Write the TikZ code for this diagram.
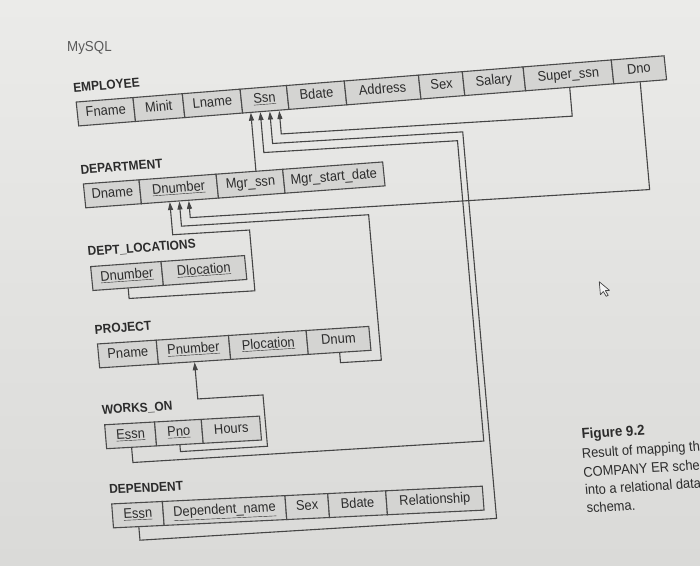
\documentclass[tikz,border=0pt]{standalone}
\usepackage{fontspec}
\setmainfont{Liberation Sans}[FakeStretch=0.92]
\usetikzlibrary{arrows.meta}
\definecolor{bgtop}{HTML}{EBEBE9}
\definecolor{bgbot}{HTML}{DADAD8}
\definecolor{cellfill}{HTML}{D4D4D2}
\definecolor{cellline}{HTML}{4A4A4A}
\definecolor{wire}{HTML}{454545}
\definecolor{ink}{HTML}{2C2C2C}
\definecolor{mysqlink}{HTML}{5A5A5A}
\begin{document}
\begin{tikzpicture}[x=1pt,y=-1pt,
  cell/.style={draw=cellline, fill=cellfill, line width=1.1pt, minimum height=24pt,
    inner sep=0pt, anchor=west, text=ink, text height=10pt, text depth=3pt,
    font=\fontsize{14}{16}\selectfont},
  tname/.style={anchor=west, inner sep=0pt, text=ink, font=\fontsize{13}{15}\selectfont\bfseries},
  capline/.style={anchor=west, inner sep=0pt, text=ink, font=\fontsize{14}{16}\selectfont},
  fk/.style={draw=wire, line width=1.1pt},
  fkarrow/.style={fk, -{Triangle[length=8pt,width=5pt]}}]
\useasboundingbox (0,0) rectangle (700,565);
\shade[top color=bgtop, bottom color=bgbot] (0,0) rectangle (700,565);
\node[anchor=west, inner sep=0pt, text=mysqlink, font=\fontsize{14.5}{16}\selectfont] (mysql) at (67,48) {MySQL};
\begin{scope}[shift={(350,300)}, cm={0.9981,0.0610,-0.0872,0.9962,(0,0)}, shift={(-350,-300)}, transform shape]
  % EMPLOYEE
  \begin{scope}[rotate around={1.0:(389,92.5)}]
  \node[tname] (empT) at (93,66) {EMPLOYEE};
  \node[cell, minimum width=57pt] (fname) at (94,92.5) {Fname};
  \node[cell, minimum width=49.5pt] (minit) at (151,92.5) {Minit};
  \node[cell, minimum width=58pt] (lname) at (200.5,92.5) {Lname};
  \node[cell, minimum width=46.5pt] (ssn) at (258.5,92.5) {\underline{Ssn}};
  \node[cell, minimum width=58pt] (ebdate) at (305,92.5) {Bdate};
  \node[cell, minimum width=74.5pt] (address) at (363,92.5) {Address};
  \node[cell, minimum width=44pt] (esex) at (437.5,92.5) {Sex};
  \node[cell, minimum width=61pt] (salary) at (481.5,92.5) {Salary};
  \node[cell, minimum width=88.5pt] (superssn) at (542.5,92.5) {Super\_ssn};
  \node[cell, minimum width=53pt] (dno) at (631,92.5) {Dno};
  \end{scope}
  % DEPARTMENT
  \begin{scope}[rotate around={0.7:(244,178)}]
  \node[tname] (deptT) at (93,151.5) {DEPARTMENT};
  \node[cell, minimum width=55.8pt] (dname) at (94,178) {Dname};
  \node[cell, minimum width=77.3pt] (dnumber) at (149.8,178) {\underline{Dnumber}};
  \node[cell, minimum width=66.8pt] (mgrssn) at (227.1,178) {Mgr\_ssn};
  \node[cell, minimum width=100.3pt] (mgrstart) at (293.9,178) {Mgr\_start\_date};
  \end{scope}
  % DEPT_LOCATIONS
  \begin{scope}[rotate around={0.6:(171,262)}]
  \node[tname] (dlT) at (93,235.5) {DEPT\_LOCATIONS};
  \node[cell, minimum width=70.6pt] (dldnumber) at (94,262) {\underline{Dnumber}};
  \node[cell, minimum width=83.7pt] (dlocation) at (164.6,262) {\underline{Dlocation}};
  \end{scope}
  % PROJECT
  \begin{scope}[rotate around={0.2:(230,340)}]
  \node[tname] (projT) at (93,313.5) {PROJECT};
  \node[cell, minimum width=58.9pt] (pname) at (94,340) {Pname};
  \node[cell, minimum width=72.4pt] (pnumber) at (152.9,340) {\underline{Pnumber}};
  \node[cell, minimum width=77.8pt] (plocation) at (225.3,340) {\underline{Plocation}};
  \node[cell, minimum width=62.8pt] (dnum) at (303.1,340) {Dnum};
  \end{scope}
  % WORKS_ON
  \begin{scope}[rotate around={-0.3:(171.5,422)}]
  \node[tname] (woT) at (93,395.5) {WORKS\_ON};
  \node[cell, minimum width=50pt] (wessn) at (94,422) {\underline{Essn}};
  \node[cell, minimum width=46.7pt] (pno) at (144,422) {\underline{Pno}};
  \node[cell, minimum width=58.4pt] (hours) at (190.7,422) {Hours};
  \end{scope}
  % DEPENDENT
  \begin{scope}[rotate around={-0.76:(279.5,503.5)}]
  \node[tname] (depT) at (93,477) {DEPENDENT};
  \node[cell, minimum width=50.7pt] (dessn) at (94,503.5) {\underline{Essn}};
  \node[cell, minimum width=122.7pt] (depname) at (144.7,503.5) {\underline{Dependent\_name}};
  \node[cell, minimum width=42.8pt] (dsex) at (267.4,503.5) {Sex};
  \node[cell, minimum width=58pt] (dbdate) at (310.2,503.5) {Bdate};
  \node[cell, minimum width=96.7pt] (relationship) at (368.2,503.5) {Relationship};
  \end{scope}
  % routing columns and levels
  \coordinate (s1) at (267.5,0);
  \coordinate (s2) at (277,0);
  \coordinate (s3) at (286.5,0);
  \coordinate (s4) at (296,0);
  \coordinate (d1) at (179,0);
  \coordinate (d2) at (188.5,0);
  \coordinate (d3) at (198,0);
  \coordinate (colIn) at (471,0);
  \coordinate (colOut) at (477,0);
  \coordinate (colDnum) at (376,0);
  \coordinate (colDL) at (256,0);
  \coordinate (colP) at (255,0);
  \coordinate (lvSup) at (0,130);
  \coordinate (lvDep) at (0,139);
  \coordinate (lvWrk) at (0,147.5);
  \coordinate (lvDno) at (0,208);
  \coordinate (lvDnum) at (0,216);
  \coordinate (lvDL) at (0,224);
  \coordinate (lvDLB) at (0,285);
  \coordinate (lvDnumB) at (0,362);
  \coordinate (lvPtop) at (0,389.5);
  \coordinate (lvPno) at (0,441);
  \coordinate (lvWE) at (0,449);
  \coordinate (lvDE) at (0,527);
  % foreign keys
  \draw[fkarrow] (mgrssn.north -| s1) -- (ssn.south -| s1);
  \draw[fkarrow] (wessn.south) -- (wessn.south |- lvWE) -- (colIn |- lvWE) -- (colIn |- lvWrk) -- (s2 |- lvWrk) -- (ssn.south -| s2);
  \draw[fkarrow] (dessn.south) -- (dessn.south |- lvDE) -- (colOut |- lvDE) -- (colOut |- lvDep) -- (s3 |- lvDep) -- (ssn.south -| s3);
  \draw[fkarrow] (superssn.south) -- (superssn.south |- lvSup) -- (s4 |- lvSup) -- (ssn.south -| s4);
  \draw[fkarrow] (dno.south) -- (dno.south |- lvDno) -- (d3 |- lvDno) -- (dnumber.south -| d3);
  \draw[fkarrow] (dnum.south) -- (dnum.south |- lvDnumB) -- (colDnum |- lvDnumB) -- (colDnum |- lvDnum) -- (d2 |- lvDnum) -- (dnumber.south -| d2);
  \draw[fkarrow] (dldnumber.south) -- (dldnumber.south |- lvDLB) -- (colDL |- lvDLB) -- (colDL |- lvDL) -- (d1 |- lvDL) -- (dnumber.south -| d1);
  \draw[fkarrow] (pno.south) -- (pno.south |- lvPno) -- (colP |- lvPno) -- (colP |- lvPtop) -- (pnumber.south |- lvPtop) -- (pnumber.south);
  % caption
  \node[anchor=west, inner sep=0pt, text=ink, font=\fontsize{14.5}{16}\selectfont\bfseries] (figno) at (569,449) {Figure 9.2};
  \node[capline] (cap1) at (567.5,468.5) {Result of mapping th};
  \node[capline] (cap2) at (567.5,486) {COMPANY ER sche};
  \node[capline] (cap3) at (567.5,504) {into a relational data};
  \node[capline] (cap4) at (567.5,522) {schema.};
  % mouse pointer
  \draw[draw=wire, line width=0.7pt, fill=white!92!gray, line join=round]
    (600,297) -- ++(0,13) -- ++(3.2,-3) -- ++(2.5,5) -- ++(2,-1) -- ++(-2.4,-4.8) -- ++(4.2,0) -- cycle;
\end{scope}
\end{tikzpicture}
\end{document}
